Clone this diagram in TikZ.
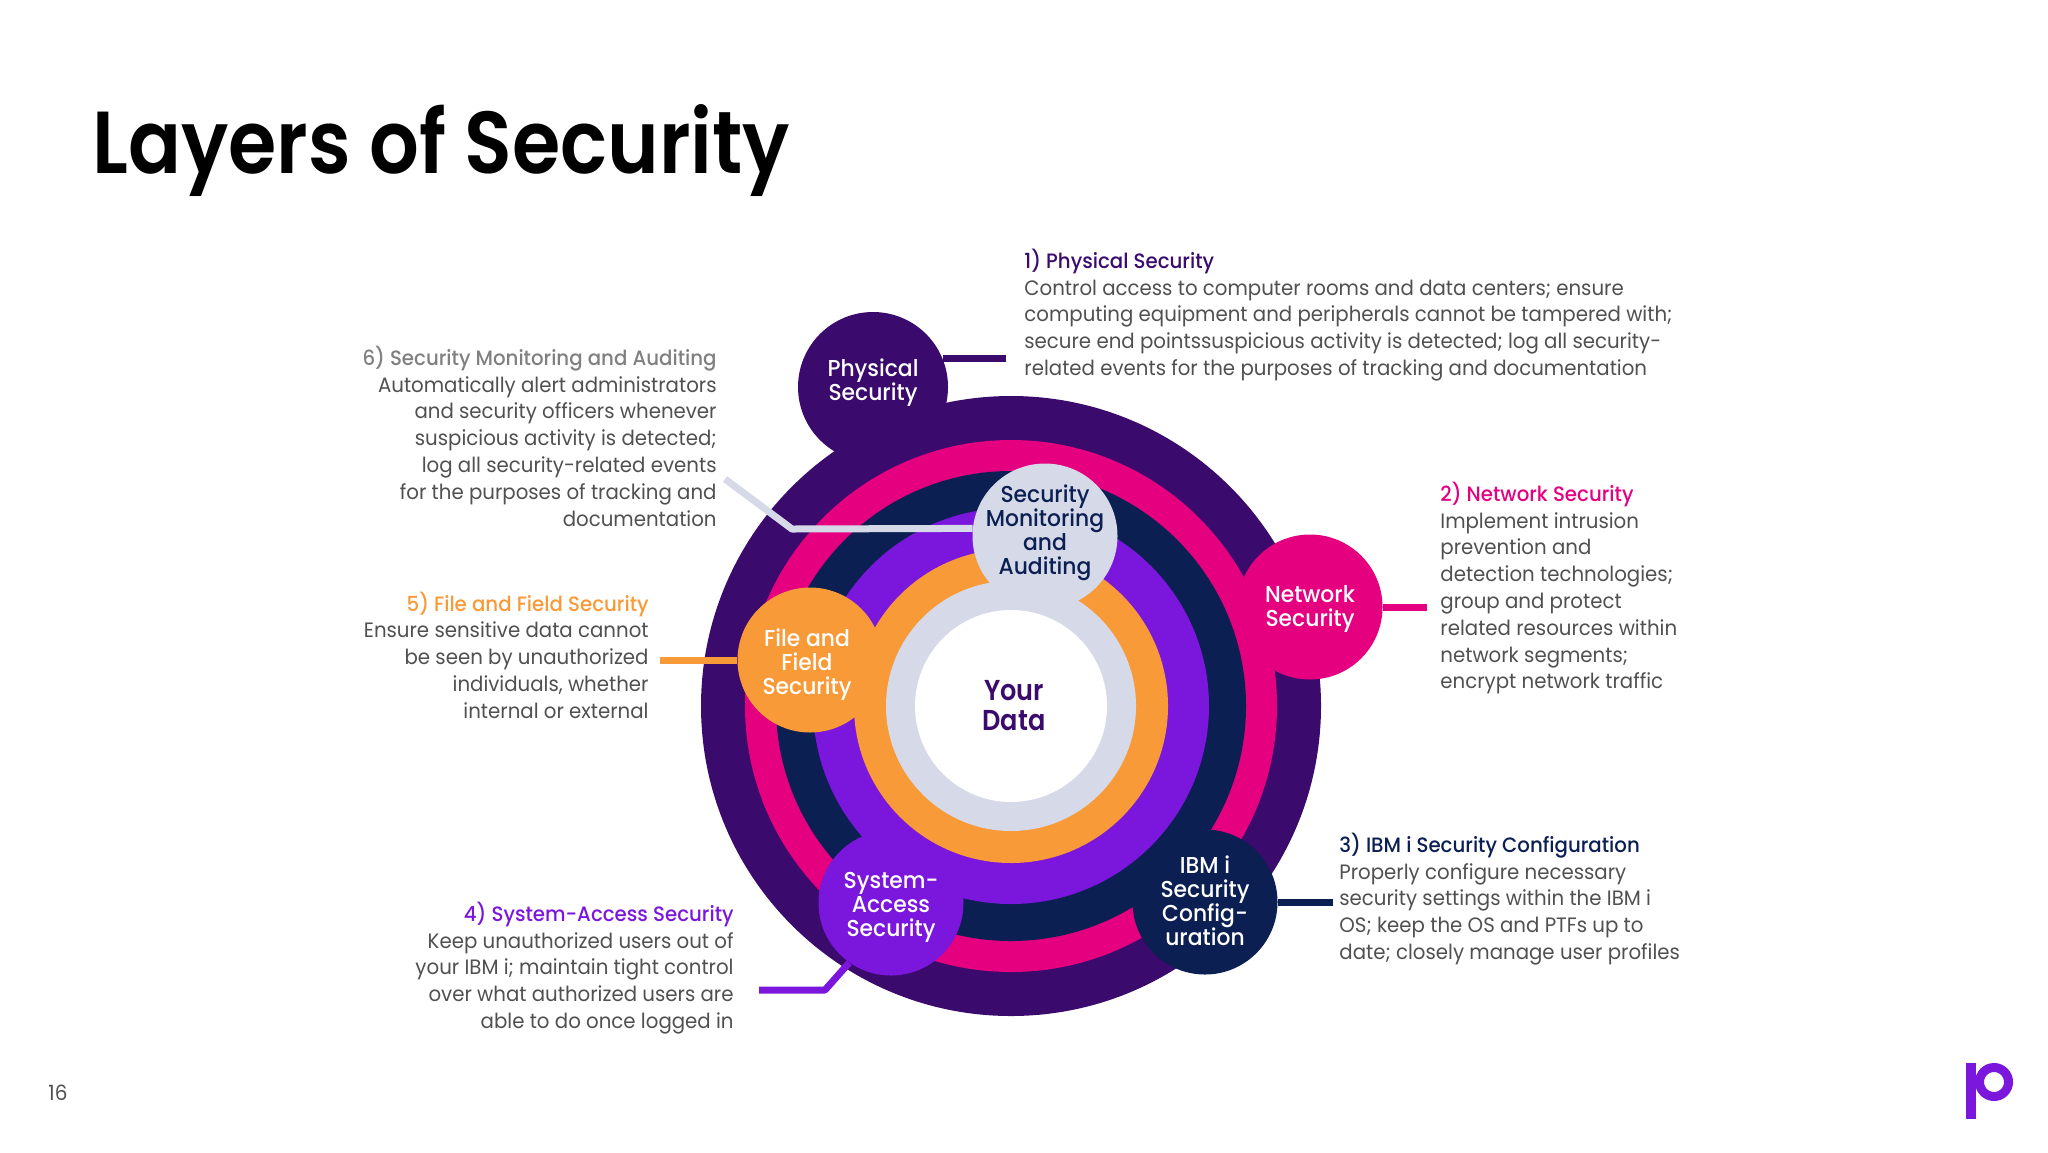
\documentclass[tikz,border=0pt]{standalone}
\usepackage{fontspec}
\setmainfont{Poppins}[FakeStretch=0.95]
\newfontfamily\titlefont{Poppins SemiBold}[FakeStretch=0.888]
\newfontfamily\headfont{Poppins Medium}[FakeStretch=0.95]
\usetikzlibrary{positioning}

\definecolor{deepviolet}{HTML}{3A0A6C}
\definecolor{hotpink}{HTML}{E4007F}
\definecolor{inknavy}{HTML}{0B1F53}
\definecolor{brightviolet}{HTML}{7B16DC}
\definecolor{amber}{HTML}{F89A38}
\definecolor{mist}{HTML}{D6D9E8}
\definecolor{bodygrey}{HTML}{505050}

\tikzset{
  satellite/.style={circle, minimum size=72.5pt, inner sep=0pt},
  sattext/.style={inner sep=0pt, align=center, text=white, font=\headfont\fontsize{11.5}{12}\selectfont},
  note/.style={inner sep=0pt, text=bodygrey, font=\fontsize{10.4}{13.4}\selectfont},
  leader/.style={line width=3.5pt, line join=round},
}

\begin{document}
\begin{tikzpicture}[x=0.5pt, y=-0.5pt]
  \useasboundingbox (0,0) rectangle (2048,1152);

  \node[anchor=base west, inner sep=0pt, font=\titlefont\fontsize{44}{44}\selectfont] (title) at (92,173) {Layers of Security};

  % rings, outside in
  \coordinate (hub) at (1011,706);
  \foreach \rad/\col in {310/deepviolet, 266/hotpink, 235/inknavy, 198/brightviolet, 157/amber, 125/mist, 96/white}
    \fill[\col] (hub) circle (\rad*0.5pt);
  \node[text=deepviolet, align=center, font=\titlefont\fontsize{14.4}{15}\selectfont] (yourdata) at (1014,706) {Your\\Data};

  % circles on the rings
  \node[satellite, minimum size=75pt, fill=deepviolet, label={[sattext, name=physicaltext, yshift=2.3pt]center:Physical\\Security}] (physical) at (873,387) {};
  \node[satellite, fill=hotpink, label={[sattext, name=networktext, yshift=-1pt]center:Network\\Security}] (network) at (1310,607) {};
  \node[satellite, fill=inknavy, label={[sattext, name=ibmitext, yshift=0.6pt]center:IBM i\\Security\\Config-\\uration}] (ibmi) at (1205,902) {};
  \node[satellite, fill=brightviolet, label={[sattext, name=systemtext, yshift=-2pt]center:System-\\Access\\Security}] (system) at (891,903) {};
  \node[satellite, fill=amber, label={[sattext, name=filetext, yshift=-2.3pt, xshift=-1.5pt]center:File and\\Field\\Security}] (filefield) at (810,660) {};
  \node[satellite, fill=mist, label={[sattext, text=inknavy, name=monitortext, yshift=1.6pt]center:Security\\Monitoring\\and\\Auditing}] (monitoring) at (1045,536) {};

  % free ends of the leaders
  \coordinate (physend) at (1006,359);
  \coordinate (netend) at (1427,605);
  \coordinate (ibmend) at (1333,901);
  \coordinate (sysbend) at (825,990);
  \coordinate (sysend) at (759,990);
  \coordinate (fileend) at (660,661);
  \coordinate (monbend) at (792,529);
  \coordinate (monend) at (725,479);

  \draw[leader, deepviolet] (physical.22) -- (physical.22 -| physend);
  \draw[leader, hotpink] (network.east) -- (network.east -| netend);
  \draw[leader, inknavy] (ibmi.east) -- (ibmi.east -| ibmend);
  \draw[leader, brightviolet] (system.235) -- (sysbend) -- (sysend);
  \draw[leader, amber] (filefield.west) -- (filefield.west -| fileend);
  \draw[leader, mist] (monitoring.174) -- (monbend) -- (monend);

  \node[note, anchor=west, align=left] (physnote) at (1024,315) {{\headfont\color{deepviolet}1) Physical Security}\\
    Control access to computer rooms and data centers; ensure\\
    computing equipment and peripherals cannot be tampered with;\\
    secure end pointssuspicious activity is detected; log all security-\\
    related events for the purposes of tracking and documentation};
  \node[note, anchor=west, align=left] (netnote) at (1440,588) {{\headfont\color{hotpink}2) Network Security}\\
    Implement intrusion\\
    prevention and\\
    detection technologies;\\
    group and protect\\
    related resources within\\
    network segments;\\
    encrypt network traffic};
  \node[note, anchor=west, align=left] (ibmnote) at (1339,899) {{\headfont\color{inknavy}3) IBM i Security Configuration}\\
    Properly configure necessary\\
    security settings within the IBM i\\
    OS; keep the OS and PTFs up to\\
    date; closely manage user profiles};
  \node[note, anchor=east, align=right] (sysnote) at (734,968) {{\headfont\color{brightviolet}4) System-Access Security}\\
    Keep unauthorized users out of\\
    your IBM i; maintain tight control\\
    over what authorized users are\\
    able to do once logged in};
  \node[note, anchor=east, align=right] (filenote) at (649,655) {{\headfont\color{amber}5) File and Field Security}\\
    Ensure sensitive data cannot\\
    be seen by unauthorized\\
    individuals, whether\\
    internal or external};
  \node[note, anchor=east, align=right] (monnote) at (717,436) {{\headfont\color{gray}6) Security Monitoring and Auditing}\\
    Automatically alert administrators\\
    and security officers whenever\\
    suspicious activity is detected;\\
    log all security-related events\\
    for the purposes of tracking and\\
    documentation};

  \node[inner sep=0pt, text=bodygrey, font=\fontsize{10.5}{10}\selectfont] (pagenum) at (58,1093) {16};

  % logo
  \fill[brightviolet] (1966,1063) rectangle (1976,1119);
  \draw[brightviolet, line width=4.5pt] (1994,1082) circle (7.25pt);
\end{tikzpicture}
\end{document}
